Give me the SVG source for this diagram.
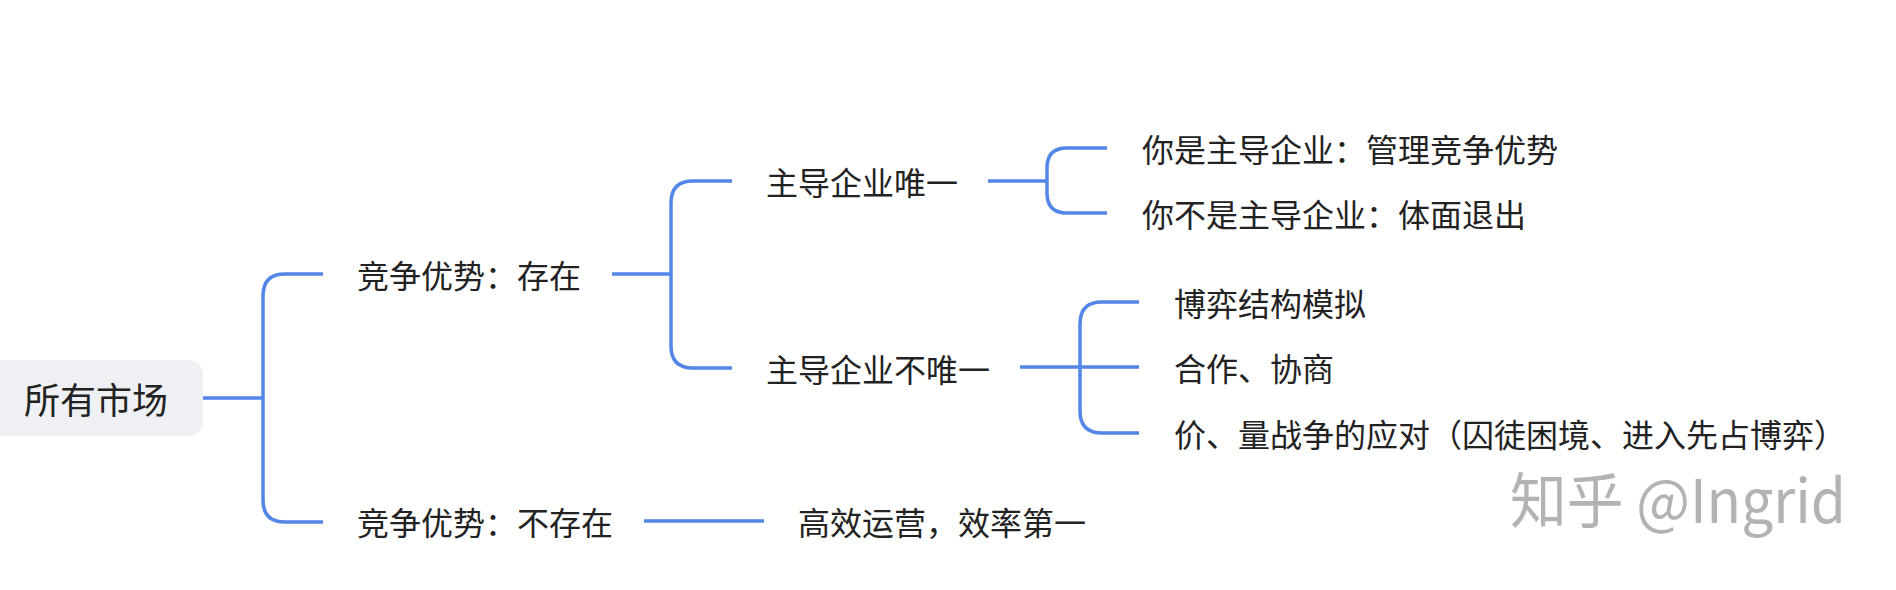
<svg xmlns="http://www.w3.org/2000/svg" width="1896" height="590" viewBox="0 0 1896 590">
<style>
.t{font-family:"Noto Sans CJK SC","Noto Sans",sans-serif;font-size:32px;fill:#222222;dominant-baseline:central}
.root{font-size:36px}
.c{fill:none;stroke:#5485e8;stroke-width:3.5;stroke-linecap:butt;stroke-linejoin:round}
.wm{font-family:"Noto Sans CJK SC","Noto Sans",sans-serif;font-size:60px;fill:#b3b3b3}
</style>
<rect width="1896" height="590" fill="#ffffff"/>
<g id="connectors">
<path class="c" d="M203 398 H263"/>
<path class="c" d="M323 274 H285 Q263 274 263 296 V500 Q263 522 285 522 H323"/>
<path class="c" d="M612 274 H671"/>
<path class="c" d="M732 181 H693 Q671 181 671 203 V346 Q671 368 693 368 H732"/>
<path class="c" d="M988 181 H1047"/>
<path class="c" d="M1107 148 H1067 Q1047 148 1047 168 V193 Q1047 213 1067 213 H1107"/>
<path class="c" d="M1020 367 H1139"/>
<path class="c" d="M1139 302 H1102 Q1080 302 1080 324 V411 Q1080 433 1102 433 H1139"/>
<path class="c" d="M644 521 H764"/>
</g>
<g id="root">
<rect x="-20" y="360" width="223" height="76" rx="14" fill="#eef0f3"/>
<text class="t root" x="24" y="398">所有市场</text>
</g>
<g id="n-exist"><text class="t" x="357" y="274">竞争优势：存在</text></g>
<g id="n-notexist"><text class="t" x="357" y="521">竞争优势：不存在</text></g>
<g id="n-unique"><text class="t" x="766" y="181">主导企业唯一</text></g>
<g id="n-notunique"><text class="t" x="766" y="368">主导企业不唯一</text></g>
<g id="n-you"><text class="t" x="1142" y="148">你是主导企业：管理竞争优势</text></g>
<g id="n-younot"><text class="t" x="1142" y="213">你不是主导企业：体面退出</text></g>
<g id="n-game"><text class="t" x="1174" y="302">博弈结构模拟</text></g>
<g id="n-coop"><text class="t" x="1174" y="367">合作、协商</text></g>
<g id="n-price"><text class="t" x="1174" y="433">价、量战争的应对（囚徒困境、进入先占博弈）</text></g>
<g id="n-eff"><text class="t" x="798" y="521">高效运营，效率第一</text></g>
<g id="watermark">
<text class="wm" x="1510" y="523" textLength="336" lengthAdjust="spacingAndGlyphs">知乎 @Ingrid</text>
</g>
</svg>
